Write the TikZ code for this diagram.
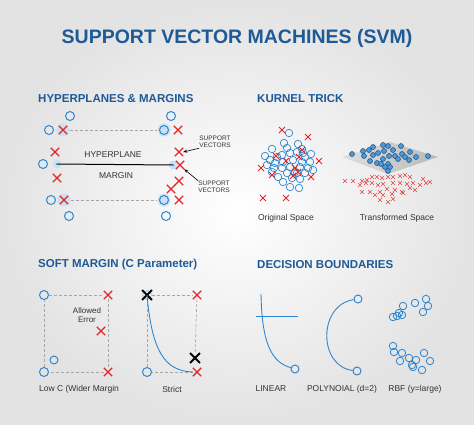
\documentclass[tikz,border=0pt]{standalone}
\usepackage{fontspec}
\setmainfont{Liberation Sans}
\usetikzlibrary{shapes.misc, arrows.meta, positioning}

\definecolor{svmblue}{HTML}{1E5A96}
\definecolor{ptblue}{HTML}{2E86D1}
\definecolor{xred}{HTML}{E02626}
\definecolor{txt}{HTML}{333333}

\tikzset{
  pt/.style={circle, draw=ptblue, line width=1pt, minimum size=9pt, inner sep=0pt},
  ptsmall/.style={pt, minimum size=7.5pt, line width=0.8pt},
  ptfill/.style={circle, draw=ptblue!60!black, fill=ptblue!85, minimum size=5pt, inner sep=0pt, line width=0.5pt},
  xr/.style={cross out, draw=xred, line width=1.4pt, minimum size=7pt, inner sep=0pt},
  xmid/.style={xr, line width=1pt, minimum size=5pt},
  xsmall/.style={xr, draw=xred!85, line width=0.55pt, minimum size=3.5pt},
  xb/.style={cross out, draw=black, line width=1.8pt, minimum size=8pt, inner sep=0pt},
  halo/.style={circle, fill=ptblue!25, minimum size=13pt, inner sep=0pt},
  dot/.style={circle, fill=ptblue, minimum size=2pt, inner sep=0pt},
  head/.style={font=\bfseries\fontsize{11.5}{13}\selectfont, text=svmblue, anchor=west, inner sep=0pt},
  lbl/.style={font=\fontsize{8.5}{10}\selectfont, text=txt, inner sep=0pt},
  tiny/.style={font=\fontsize{6.5}{7.5}\selectfont, text=txt, align=center, inner sep=0pt},
  margin/.style={densely dashed, draw=gray!70, line width=0.6pt},
  bound/.style={draw=ptblue, line width=0.9pt},
}

\begin{document}
\begin{tikzpicture}[x=1pt, y=-1pt]
    \useasboundingbox (0,0) rectangle (474,424);
    \shade[inner color=white, outer color=gray!22] (0,0) rectangle (474,424);

    \node[font=\bfseries\fontsize{19.5}{22}\selectfont, text=svmblue] (title) at (237,38) {SUPPORT VECTOR MACHINES (SVM)};

    % hyperplanes & margins
    \node[head] (h1) at (38,99) {HYPERPLANES \& MARGINS};
    \node[pt] (a1) at (70,116) {};
    \node[pt] (a2) at (49,130) {};
    \node[halo] (a3) at (63,130) {};
    \node[xr] (a3x) at (a3) {};
    \node[halo] (a4) at (164,130) {};
    \node[pt] (a4c) at (a4) {};
    \node[xr] (a5) at (178,130) {};
    \node[pt] (a6) at (171,116) {};
    \draw[margin] (a3) -- (a4);

    \node[pt] (b1) at (43,164) {};
    \node[halo, minimum size=9pt] (b2) at (57,164) {};
    \node[halo, minimum size=9pt] (b3) at (173,165) {};
    \draw[black, line width=1pt] (b2.center) -- (b3.center);
    \node[dot] (b2d) at (b2) {};
    \node[dot] (b3d) at (b3) {};
    \node[lbl] (hp) at (113,155) {HYPERPLANE};
    \node[lbl] (mg) at (116,176) {MARGIN};
    \node[xr] (b4) at (55,152) {};
    \node[xr] (b5) at (57,178) {};
    \node[xr] (b6) at (179,152) {};
    \node[xr] (b7) at (180,165) {};
    \node[xr] (b8) at (179,181) {};
    \node[xr] (b9) at (171,189) {};

    \node[pt] (c1) at (51,200) {};
    \node[halo] (c2) at (64,200) {};
    \node[xr] (c2x) at (c2) {};
    \node[halo] (c3) at (164,200) {};
    \node[pt] (c3c) at (c3) {};
    \node[xr] (c4) at (179,200) {};
    \node[pt] (c5) at (69,216) {};
    \node[pt] (c6) at (166,216) {};
    \draw[margin] (c2) -- (c3);

    \node[tiny] (sv1) at (215,142) {SUPPORT\\VECTORS};
    \node[tiny] (sv2) at (214,187) {SUPPORT\\VECTORS};
    \draw[-{Stealth[length=4pt]}, line width=0.6pt] (sv1.south west) -- (b6.east);
    \draw[-{Stealth[length=4pt]}, line width=0.6pt] (sv2.north west) -- (b7.south east);

    % kurnel trick
    \node[head] (h2) at (257,99) {KURNEL TRICK};
    \foreach \p [count=\i] in {(289,133),(272,149),(284,143),(287,148),(298,144),(302,149),
        (311,154),(265,156),(270,160),(277,157),(282,155),(290,153),(297,152),(305,157),
        (275,163),(283,162),(293,160),(302,162),(310,162),(267,165),(282,168),(290,167),
        (300,167),(308,168),(272,172),(287,173),(297,173),(305,173),(278,177),(292,178),
        (300,179),(283,182),(290,187),(299,188),(313,170),(274,168),(303,153),(295,172)}
        \node[ptsmall, line width=0.7pt] (ko\i) at \p {};
    \foreach \p [count=\i] in {(282,130),(308,137),(302,150),(276,156),(286,161),(299,157),
        (319,161),(261,168),(272,175),(295,168),(298,172),(293,176),(311,177),(263,198),(286,198)}
        \node[xmid] (kx\i) at \p {};
    \node[lbl] (orig) at (286,218) {Original Space};

    \shade[left color=gray!25, right color=gray!55] (342,157) -- (390,142) -- (438,157) -- (388,174) -- cycle;
    \foreach \p [count=\i] in {(352,154),(363,151),(364,156),(369,150),(373,147),(373,155),
        (378,153),(383,145),(384,151),(388,146),(393,150),(389,156),(395,156),(401,146),
        (402,154),(398,159),(405,157),(410,152),(409,160),(416,157),(428,156),(370,161),
        (377,163),(383,159),(388,164),(385,167),(390,167),(388,171),(381,164)}
        \node[ptfill] (kt\i) at \p {};
    \foreach \p [count=\i] in {(345,181),(353,181),(362,181),(367,180),(372,177),(377,177),
        (382,178),(388,177),(393,177),(400,176),(405,175),(410,177),(423,179),(430,182),
        (426,183),(360,185),(366,183),(372,183),(378,185),(383,184),(393,183),(400,183),
        (407,184),(413,183),(420,185),(362,192),(370,192),(380,192),(387,189),(395,190),
        (402,192),(410,188),(415,190),(375,195),(383,195),(392,194),(403,193),(388,202),
        (393,199),(380,200)}
        \node[xsmall] (ky\i) at \p {};
    \node[lbl] (trans) at (397,218) {Transformed Space};

    % soft margin
    \node[head] (h3) at (38,265) {SOFT MARGIN (C Parameter)};
    \node[pt] (s1) at (44,295) {};
    \node[xr] (s2) at (108,295) {};
    \node[xr] (s3) at (108,372) {};
    \node[pt] (s4) at (44,372) {};
    \draw[margin] (s1) -- (s2);
    \draw[margin] (s2) -- (s3);
    \draw[margin] (s3) -- (s4);
    \draw[margin] (s4) -- (s1);
    \node[xr] (s5) at (101,331) {};
    \node[pt, minimum size=8pt] (s6) at (54,360) {};
    \node[lbl, font=\fontsize{8}{9.5}\selectfont, align=center] (err) at (87,315) {Allowed\\Error};
    \node[lbl] (lowc) at (79,389) {Low C (Wider Margin};

    \node[pt, draw=ptblue!40] (t1c) at (147,295) {};
    \node[xb] (t1) at (147,295) {};
    \node[xr] (t2) at (197,295) {};
    \node[xr] (t3) at (197,372) {};
    \node[pt] (t4) at (147,372) {};
    \node[xb] (t5) at (195,358) {};
    \draw[margin] (t1) -- (t2);
    \draw[margin] (t2) -- (t5);
    \draw[margin] (t3) -- (t4);
    \draw[margin] (t4) -- (t1);
    \draw[bound] (t1.center) .. controls (152,352) and (165,371) .. (t3.west);
    \node[lbl] (strict) at (172,389) {Strict};

    % decision boundaries
    \node[head] (h4) at (257,265) {DECISION BOUNDARIES};
    \coordinate (l0) at (261,294);
    \node[pt, minimum size=8pt] (l1) at (295,369) {};
    \draw[bound] (l0) .. controls (262,345) and (272,362) .. (l1);
    \coordinate (l2) at (256,316);
    \coordinate (l3) at (298,316);
    \draw[bound] (l2) -- (l3);
    \node[lbl] (lin) at (271,389) {LINEAR};

    \node[pt, minimum size=8pt] (p1) at (358,299) {};
    \node[pt, minimum size=8pt] (p2) at (357,371) {};
    \draw[bound] (p1) .. controls (318,305) and (318,366) .. (p2);
    \node[lbl] (poly) at (342,389) {POLYNOIAL (d=2)};

    \foreach \p [count=\i] in {(403,306),(399,313),(397,316),(402,315),(393,317),(415,303),
        (426,299),(428,306),(423,312),(393,346),(394,352),(402,353),(409,358),(416,360),
        (412,365),(413,367),(422,370),(424,353),(430,361),(400,361)}
        \node[ptsmall] (r\i) at \p {};
    \node[lbl] (rbf) at (415,389) {RBF (y=large)};
\end{tikzpicture}
\end{document}
